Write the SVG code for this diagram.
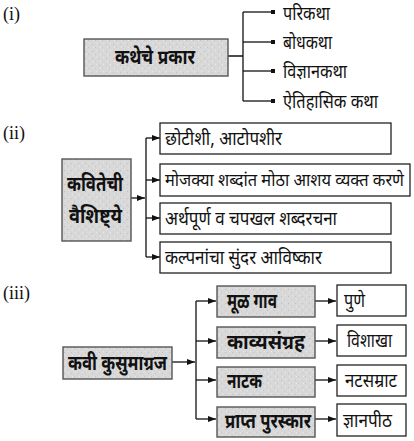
<svg xmlns="http://www.w3.org/2000/svg" width="414" height="441" viewBox="0 0 414 441">
<defs>
<style>
.lbl{font-family:"Liberation Serif","DejaVu Serif",serif;font-size:18px;fill:#111}
.t{font-family:"Noto Sans","Noto Sans Devanagari","Lohit Devanagari",sans-serif;font-size:19px;fill:#111}
.tb{font-family:"Noto Sans","Noto Sans Devanagari","Lohit Devanagari",sans-serif;font-size:20px;font-weight:bold;fill:#111}
.gbox{fill:url(#speck);stroke:#555;stroke-width:1.4}
.wbox{fill:#fff;stroke:#222;stroke-width:1.3}
.ln{fill:none;stroke:#111;stroke-width:1.3}
</style>
<pattern id="speck" width="7" height="7" patternUnits="userSpaceOnUse">
<rect width="7" height="7" fill="#d8d8d8"/>
<rect x="1" y="2" width="1" height="1" fill="#c0c0c0"/>
<rect x="4" y="5" width="1" height="1" fill="#c6c6c6"/>
<rect x="5" y="1" width="1" height="1" fill="#e8e8e8"/>
<rect x="2" y="5" width="1" height="1" fill="#eaeaea"/>
</pattern>
<marker id="arr" markerWidth="9" markerHeight="7" refX="8" refY="3.5" orient="auto" markerUnits="userSpaceOnUse">
<path d="M0,0.5 L8,3.5 L0,6.5 z" fill="#111"/>
</marker>
<marker id="sq" markerWidth="4" markerHeight="4" refX="2" refY="2" orient="auto" markerUnits="userSpaceOnUse">
<rect width="4" height="4" fill="#111"/>
</marker>
</defs>
<rect width="414" height="441" fill="#fff"/>

<g id="labels">
<text class="lbl" x="3" y="20">(i)</text>
<text class="lbl" x="3" y="139">(ii)</text>
<text class="lbl" x="3" y="299">(iii)</text>
</g>

<g id="connectors">
<path class="ln" d="M228,56 H243 M243,12 V101"/>
<path class="ln" d="M243,12 H273" marker-end="url(#sq)"/>
<path class="ln" d="M243,42 H273" marker-end="url(#sq)"/>
<path class="ln" d="M243,71 H273" marker-end="url(#sq)"/>
<path class="ln" d="M243,101 H273" marker-end="url(#sq)"/>
<path class="ln" d="M131,198 H145" marker-end="url(#arr)"/>
<path class="ln" d="M146,138 V257"/>
<path class="ln" d="M146,138 H160" marker-end="url(#arr)"/>
<path class="ln" d="M146,180 H160" marker-end="url(#arr)"/>
<path class="ln" d="M146,218 H160" marker-end="url(#arr)"/>
<path class="ln" d="M146,257 H160" marker-end="url(#arr)"/>
<path class="ln" d="M172,362 H195" marker-end="url(#arr)"/>
<path class="ln" d="M196,301 V419"/>
<path class="ln" d="M196,301 H216" marker-end="url(#arr)"/>
<path class="ln" d="M196,341 H216" marker-end="url(#arr)"/>
<path class="ln" d="M196,380 H216" marker-end="url(#arr)"/>
<path class="ln" d="M196,419 H216" marker-end="url(#arr)"/>
<path class="ln" d="M315,301 H336" marker-end="url(#arr)"/>
<path class="ln" d="M315,341 H336" marker-end="url(#arr)"/>
<path class="ln" d="M315,380 H336" marker-end="url(#arr)"/>
<path class="ln" d="M315,419 H336" marker-end="url(#arr)"/>
</g>

<g id="n-kathe">
<rect class="gbox" x="84" y="39" width="144" height="37"/>
<text class="tb" x="115" y="64" textLength="80" lengthAdjust="spacingAndGlyphs">कथेचे प्रकार</text>
</g>
<g id="n-i1"><text class="t" x="283" y="20" textLength="47" lengthAdjust="spacingAndGlyphs">परिकथा</text></g>
<g id="n-i2"><text class="t" x="283" y="49" textLength="49" lengthAdjust="spacingAndGlyphs">बोधकथा</text></g>
<g id="n-i3"><text class="t" x="283" y="78" textLength="64" lengthAdjust="spacingAndGlyphs">विज्ञानकथा</text></g>
<g id="n-i4"><text class="t" x="283" y="108" textLength="95" lengthAdjust="spacingAndGlyphs">ऐतिहासिक कथा</text></g>

<g id="n-kavita">
<rect class="gbox" x="62" y="159" width="69" height="82"/>
<text class="tb" x="67" y="191" textLength="56" lengthAdjust="spacingAndGlyphs">कवितेची</text>
<text class="tb" x="69" y="223" textLength="53" lengthAdjust="spacingAndGlyphs">वैशिष्ट्ये</text>
</g>
<g id="n-ii1">
<rect class="wbox" x="160" y="123" width="231" height="31"/>
<text class="t" x="165" y="145" textLength="117" lengthAdjust="spacingAndGlyphs">छोटीशी, आटोपशीर</text>
</g>
<g id="n-ii2">
<rect class="wbox" x="160" y="164" width="250" height="32"/>
<text class="t" x="165" y="186" style="font-size:17px" textLength="239" lengthAdjust="spacingAndGlyphs">मोजक्या शब्दांत मोठा आशय व्यक्त करणे</text>
</g>
<g id="n-ii3">
<rect class="wbox" x="160" y="203" width="231" height="31"/>
<text class="t" x="165" y="225" textLength="172" lengthAdjust="spacingAndGlyphs">अर्थपूर्ण व चपखल शब्दरचना</text>
</g>
<g id="n-ii4">
<rect class="wbox" x="160" y="242" width="231" height="31"/>
<text class="t" x="165" y="264" textLength="157" lengthAdjust="spacingAndGlyphs">कल्पनांचा सुंदर आविष्कार</text>
</g>

<g id="n-kusumagraj">
<rect class="gbox" x="63" y="347" width="109" height="32"/>
<text class="tb" x="68" y="370" textLength="99" lengthAdjust="spacingAndGlyphs">कवी कुसुमाग्रज</text>
</g>
<g id="n-m1">
<rect class="gbox" x="217" y="286" width="98" height="31"/>
<text class="tb" x="227" y="308" textLength="50" lengthAdjust="spacingAndGlyphs">मूळ गाव</text>
</g>
<g id="n-m2">
<rect class="gbox" x="217" y="327" width="98" height="31"/>
<text class="tb" x="227" y="349" textLength="78" lengthAdjust="spacingAndGlyphs">काव्यसंग्रह</text>
</g>
<g id="n-m3">
<rect class="gbox" x="217" y="367" width="98" height="30"/>
<text class="tb" x="227" y="388" textLength="35" lengthAdjust="spacingAndGlyphs">नाटक</text>
</g>
<g id="n-m4">
<rect class="gbox" x="217" y="407" width="98" height="30"/>
<text class="tb" x="225" y="428" textLength="86" lengthAdjust="spacingAndGlyphs">प्राप्त पुरस्कार</text>
</g>
<g id="n-r1">
<rect class="wbox" x="337" y="285" width="69" height="31"/>
<text class="t" x="344" y="307" textLength="21" lengthAdjust="spacingAndGlyphs">पुणे</text>
</g>
<g id="n-r2">
<rect class="wbox" x="337" y="325" width="69" height="31"/>
<text class="t" x="347" y="347" textLength="45" lengthAdjust="spacingAndGlyphs">विशाखा</text>
</g>
<g id="n-r3">
<rect class="wbox" x="337" y="365" width="69" height="31"/>
<text class="t" x="345" y="387" textLength="52" lengthAdjust="spacingAndGlyphs">नटसम्राट</text>
</g>
<g id="n-r4">
<rect class="wbox" x="337" y="404" width="69" height="32"/>
<text class="t" x="343" y="427" textLength="49" lengthAdjust="spacingAndGlyphs">ज्ञानपीठ</text>
</g>
</svg>
